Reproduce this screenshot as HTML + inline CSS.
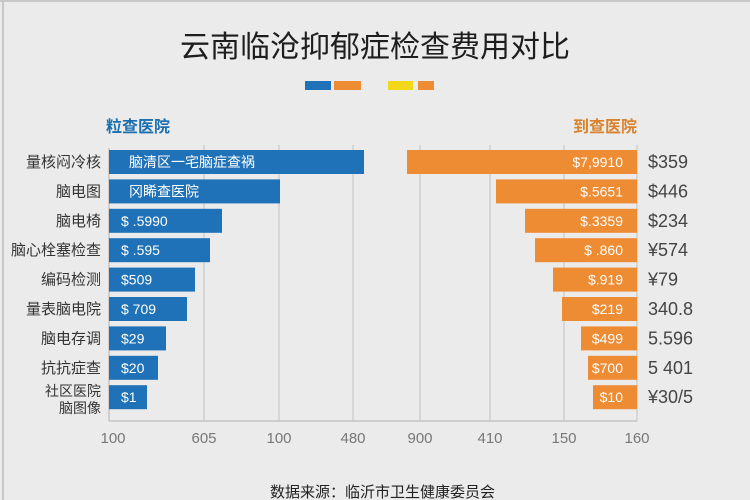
<!DOCTYPE html>
<html><head><meta charset="utf-8"><style>
html,body{margin:0;padding:0;background:#ebebeb;}
svg{display:block;font-family:"Liberation Sans","Noto Sans CJK SC",sans-serif;}
</style></head><body>
<svg id="chart" width="750" height="500" viewBox="0 0 750 500">
<rect width="750" height="500" fill="#ebebeb"/>
<line x1="0" y1="1" x2="750" y2="1" stroke="#c8c8c8" stroke-width="2"/>
<line x1="3" y1="0" x2="3" y2="500" stroke="#c8c8c8" stroke-width="2"/>
<text x="375" y="57" text-anchor="middle" font-size="30" fill="#1e1e1e">云南临沧抑郁症检查费用对比</text>
<g>
<rect x="305" y="81" width="26" height="9" fill="#1f72b8"/>
<rect x="334" y="81" width="27" height="9" fill="#ee8c34"/>
<rect x="388" y="81" width="25" height="9" fill="#f2d81a"/>
<rect x="418" y="81" width="16" height="9" fill="#ee8c34"/>
</g>
<text x="106" y="132" font-size="16" font-weight="bold" fill="#1a6fb0">粒查医院</text>
<text x="637" y="132" text-anchor="end" font-size="16" font-weight="bold" fill="#d9822b">到查医院</text>
<g id="grid"></g>
<g id="bars"></g>
<text x="270" y="497" font-size="15" fill="#222">数据来源：临沂市卫生健康委员会</text>
</svg>
<script>
const categories=["量核闷冷核","脑电图","脑电椅","脑心栓塞检查","编码检测","量表脑电院","脑电存调","抗抗症查","社区医院|脑图像"];
const leftValues=[255,171,113,101,86,78,57,49,38];
const rightValues=[230,141,112,102,84,75,56,49,44];
const leftBarLabels=["脑清区一宅脑症查祸","冈睎查医院","$ .5990","$ .595","$509","$ 709","$29","$20","$1"];
const rightBarLabels=["$7,9910","$.5651","$.3359","$ .860","$.919","$219","$499","$700","$10"];
const rightValueLabels=["$359","$446","$234","¥574","¥79","340.8","5.596","5 401","¥30/5"];
const leftTickValues=[0,95,170,244];
const leftTickLabels=["100","605","100","480"];
const rightTickValues=[217,147,73,0];
const rightTickLabels=["900","410","150","160"];

const NS="http://www.w3.org/2000/svg";
const L0=109,R0=637,TOP=150,PITCH=29.4,BH=24,BASE=421;
function xL(v){return L0+v;}
function xR(v){return R0-v;}
function yRow(i){return TOP+i*PITCH;}
function mk(t,a,p){const e=document.createElementNS(NS,t);for(const k in a)e.setAttribute(k,a[k]);p.appendChild(e);return e;}
const grid=document.getElementById('grid'),bars=document.getElementById('bars');

leftTickValues.forEach((v,i)=>{
 if(i>0){const g=mk('line',{x1:xL(v),x2:xL(v),y1:145,y2:BASE,stroke:'#cfcfcf','stroke-width':1.5},grid);
 
 }
 const t=mk('text',{x:xL(v)+(i===0?4:0),y:443,'text-anchor':'middle','font-size':15,fill:'#777'},grid);
 t.textContent=leftTickLabels[i];
 
 
});
rightTickValues.forEach((v,i)=>{
 const g=mk('line',{x1:xR(v),x2:xR(v),y1:145,y2:BASE,stroke:'#cfcfcf','stroke-width':1.5},grid);
 
 
 const t=mk('text',{x:xR(v),y:443,'text-anchor':'middle','font-size':15,fill:'#777'},grid);
 t.textContent=rightTickLabels[i];
 
 
});
const ax=mk('line',{x1:L0,x2:R0,y1:BASE,y2:BASE,stroke:'#c4c4c4','stroke-width':1.5},grid);


const ay=mk('line',{x1:L0,x2:L0,y1:148,y2:BASE,stroke:'#c4c4c4','stroke-width':1.5},grid);



categories.forEach((c,i)=>{
 const y=yRow(i);
 const parts=c.split('|');
 parts.forEach((p,j)=>{
  const yy=parts.length>1?y+BH/2-1+j*17:y+BH/2+5;
  const ct=mk('text',{x:101,y:yy,'text-anchor':'end','font-size':parts.length>1?14:15,fill:'#333'},bars);
  ct.textContent=p;
  
  
 });
 const lb=mk('rect',{x:xL(0),y:y,width:xL(leftValues[i])-xL(0),height:BH,fill:'#1f72b8'},bars);
 
 
 const lt=mk('text',{x:xL(0)+(i<2?20:12),y:y+BH/2+5,'font-size':14,fill:'#fff'},bars);
 lt.textContent=leftBarLabels[i];
 
 
 const rb=mk('rect',{x:xR(rightValues[i]),y:y,width:xR(0)-xR(rightValues[i]),height:BH,fill:'#ee8c34'},bars);
 
 
 const rt=mk('text',{x:xR(0)-14,y:y+BH/2+5,'text-anchor':'end','font-size':14,fill:'#fff'},bars);
 rt.textContent=rightBarLabels[i];
 
 
 const rv=mk('text',{x:648,y:y+BH/2+6,'font-size':18,fill:'#444'},bars);
 rv.textContent=rightValueLabels[i];
 
 
});
</script>
</body></html>
